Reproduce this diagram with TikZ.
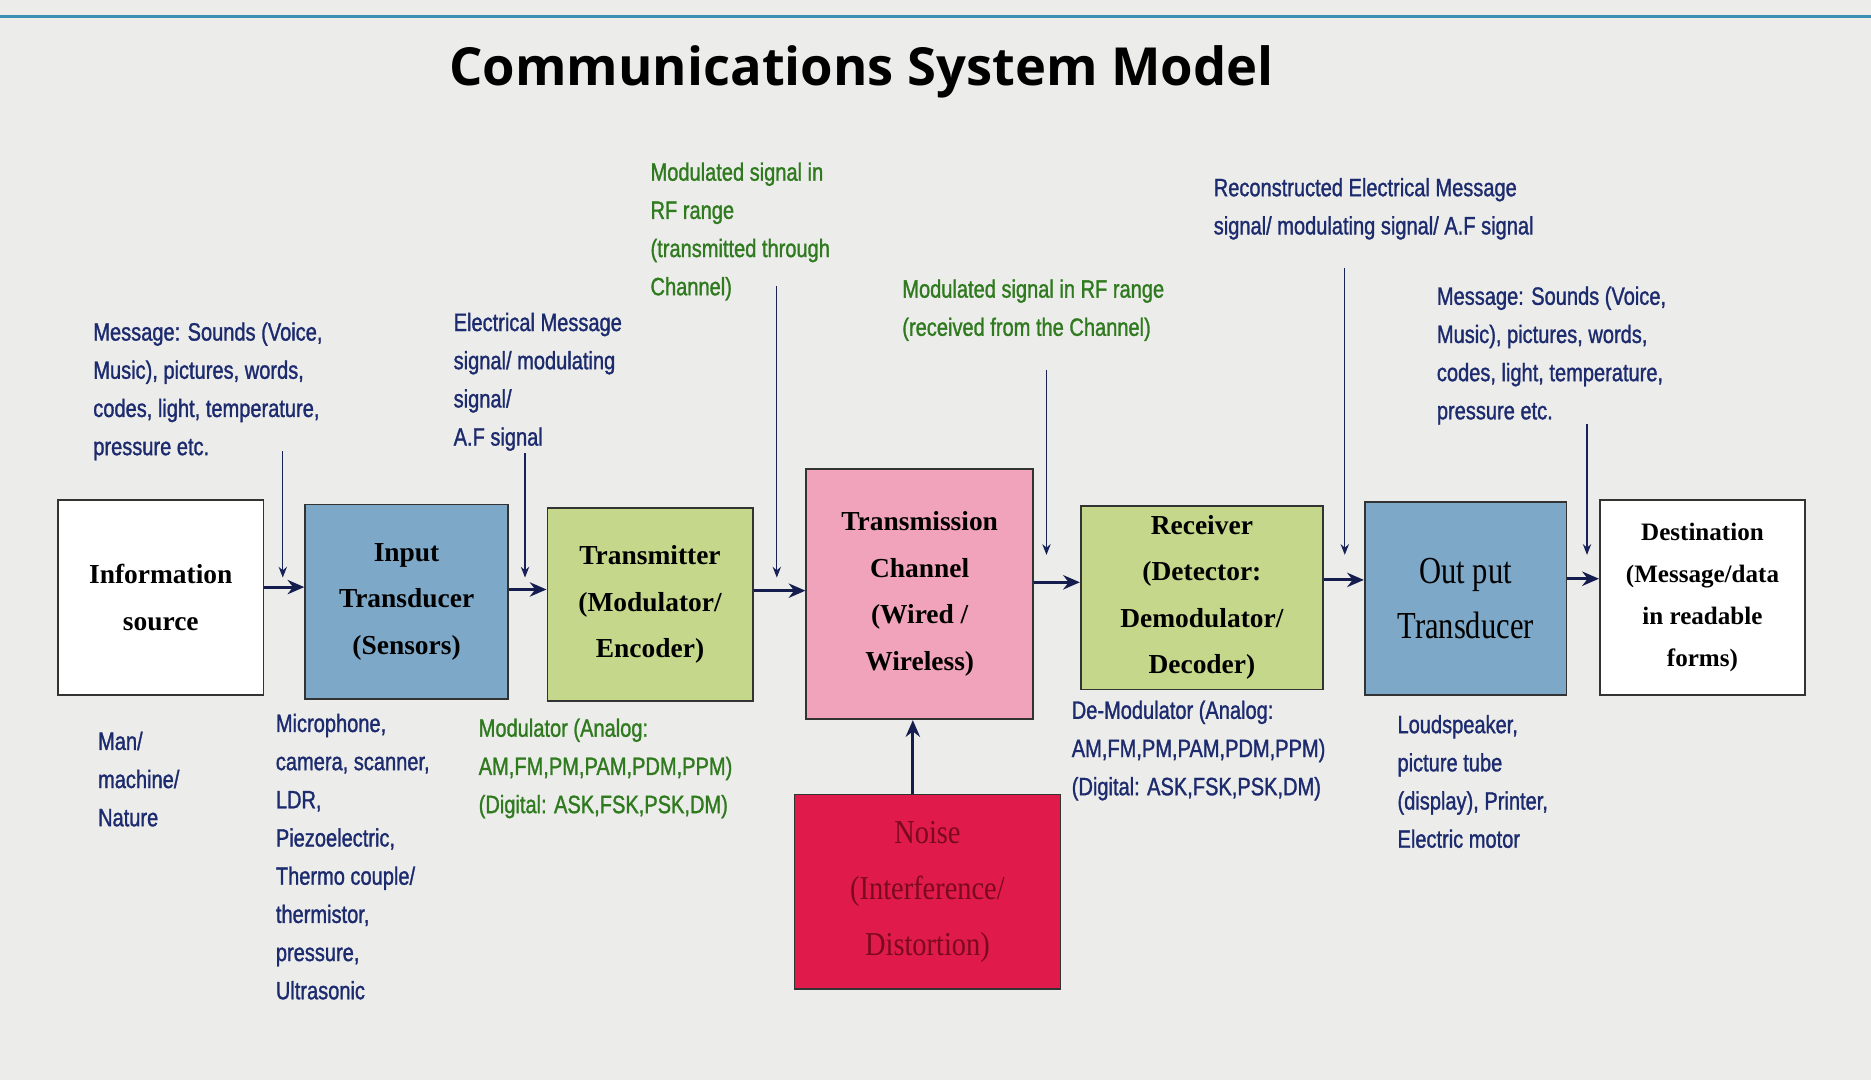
\documentclass[tikz,border=0pt]{standalone}
\usepackage{fontspec}
\setmainfont{Liberation Serif}
\newfontfamily\ann{Liberation Sans}[FakeStretch=0.8,FakeBold=1.2]
\newfontfamily\ttl{Open Sans}
\usetikzlibrary{arrows.meta}
\definecolor{bg}{HTML}{ECECEA}
\definecolor{topline}{HTML}{3A8FB5}
\definecolor{navy}{HTML}{1C2A6E}
\definecolor{grn}{HTML}{2F7A1F}
\definecolor{bluebox}{HTML}{7EA8C8}
\definecolor{grnbox}{HTML}{C4D78A}
\definecolor{pinkbox}{HTML}{F2A3BC}
\definecolor{redbox}{HTML}{E01A4A}
\definecolor{darkred}{HTML}{7A0A1E}
\begin{document}
\begin{tikzpicture}[x=1pt,y=-1pt,
 box/.style={draw=black!80,line width=1.5pt,anchor=north west,align=center,inner sep=0pt,font=\bfseries\fontsize{23}{39}\selectfont},
 ann/.style={anchor=north west,align=left,inner sep=0pt,text=navy,font=\ann\fontsize{21}{32}\selectfont,yshift=-6pt},
 arr/.style={-{Stealth[length=14pt,width=12pt]},line width=2.5pt,navy!70!black},
 varr/.style={-{Stealth[length=9pt,width=7pt]},line width=0.9pt,navy!80!black}]
\useasboundingbox (0,0) rectangle (1568,905);
\fill[bg] (0,0) rectangle (1568,905);
\draw[line width=3pt,color=topline] (0,14) -- (1568,14);
\node[font=\ttl\bfseries\fontsize{44}{50}\selectfont] (title) at (722,60) {Communications System Model};

\node[box,fill=white,minimum width=172pt,minimum height=164pt] (src) at (48,418) {Information\\source};
\node[box,fill=bluebox,minimum width=170pt,minimum height=163pt] (itr) at (255,422) {Input\\Transducer\\(Sensors)};
\node[box,fill=grnbox,minimum width=172pt,minimum height=162pt] (tx) at (458,425) {Transmitter\\(Modulator/\\Encoder)};
\node[box,fill=pinkbox,minimum width=190pt,minimum height=210pt] (ch) at (675,392) {Transmission\\Channel\\(Wired /\\Wireless)};
\node[box,fill=grnbox,minimum width=203pt,minimum height=154pt] (rx) at (905,423) {Receiver\\(Detector:\\Demodulator/\\Decoder)};
\node[box,fill=bluebox,minimum width=169pt,minimum height=162pt,font=\fontsize{32}{46}\selectfont\addfontfeature{FakeStretch=0.8}] (otr) at (1143,420) {Out put\\Transducer};
\node[box,fill=white,minimum width=172pt,minimum height=164pt,font=\bfseries\fontsize{21}{35}\selectfont] (dst) at (1340,418) {Destination\\(Message/data\\in readable\\forms)};
\node[box,fill=redbox,minimum width=223pt,minimum height=163pt,text=darkred,font=\fontsize{28}{47}\selectfont\addfontfeature{FakeStretch=0.85}] (noise) at (665,665) {Noise\\(Interference/\\Distortion)};

\draw[arr] (src.east|-0,492) -- (itr.west|-0,492);
\draw[arr] (itr.east|-0,494) -- (tx.west|-0,494);
\draw[arr] (tx.east|-0,495) -- (ch.west|-0,495);
\draw[arr] (ch.east|-0,488) -- (rx.west|-0,488);
\draw[arr] (rx.east|-0,486) -- (otr.west|-0,486);
\draw[arr] (otr.east|-0,485) -- (dst.west|-0,485);
\draw[arr] (noise.north-|765,0) -- (ch.south-|765,0);

\node[ann] (a1) at (78,264) {Message: Sounds (Voice,\\Music), pictures, words,\\codes, light, temperature,\\pressure etc.};
\node[ann] (a2) at (380,256) {Electrical Message\\signal/ modulating\\signal/\\A.F signal};
\node[ann,text=grn] (a3) at (545,130) {Modulated signal in\\RF range\\(transmitted through\\Channel)};
\node[ann,text=grn] (a4) at (756,228) {Modulated signal in RF range\\(received from the Channel)};
\node[ann] (a5) at (1017,143) {Reconstructed Electrical Message\\signal/ modulating signal/ A.F signal};
\node[ann] (a6) at (1204,234) {Message: Sounds (Voice,\\Music), pictures, words,\\codes, light, temperature,\\pressure etc.};

\coordinate (v1s) at (237,378); \coordinate (v1e) at (237,484);
\coordinate (v2s) at (440,380); \coordinate (v2e) at (440,484);
\coordinate (v3s) at (651,240); \coordinate (v3e) at (651,484);
\coordinate (v4s) at (877,310); \coordinate (v4e) at (877,465);
\coordinate (v5s) at (1127,225); \coordinate (v5e) at (1127,465);
\coordinate (v6s) at (1330,355); \coordinate (v6e) at (1330,465);
\foreach \i in {1,...,6} \draw[varr] (v\i s) -- (v\i e);

\node[ann] (b1) at (82,607) {Man/\\machine/\\Nature};
\node[ann] (b2) at (231,592) {Microphone,\\camera, scanner,\\LDR,\\Piezoelectric,\\Thermo couple/\\thermistor,\\pressure,\\Ultrasonic};
\node[ann,text=grn] (b3) at (401,596) {Modulator (Analog:\\AM,FM,PM,PAM,PDM,PPM)\\(Digital: ASK,FSK,PSK,DM)};
\node[ann] (b4) at (898,581) {De-Modulator (Analog:\\AM,FM,PM,PAM,PDM,PPM)\\(Digital: ASK,FSK,PSK,DM)};
\node[ann] (b5) at (1171,593) {Loudspeaker,\\picture tube\\(display), Printer,\\Electric motor};
\end{tikzpicture}
\end{document}
